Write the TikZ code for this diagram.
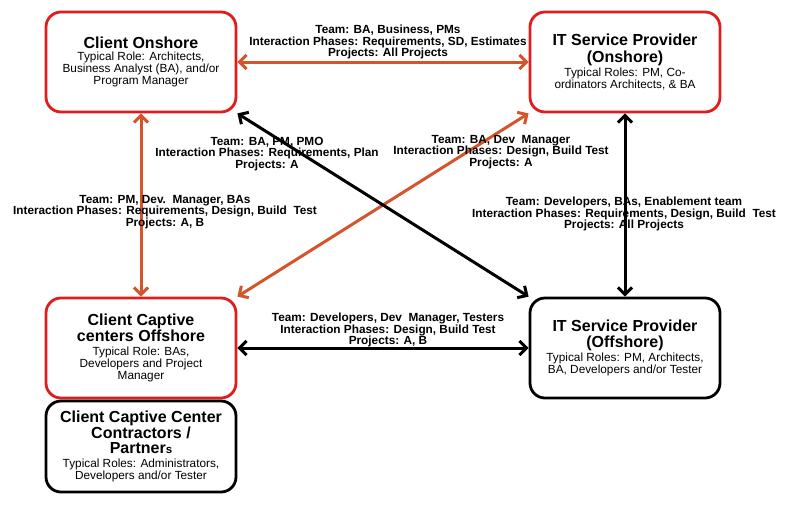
\documentclass[tikz,border=0pt]{standalone}
\usepackage{fontspec}
\setmainfont{Liberation Sans}
\usetikzlibrary{arrows.meta}
\definecolor{boxred}{RGB}{224,28,28}
\definecolor{linkred}{RGB}{212,84,44}
\def\titlefont{\bfseries\fontsize{16}{15}\selectfont}
\def\bodyfont{\mdseries\fontsize{11.8}{12}\selectfont}
\newcommand\boxtitle[1]{{\titlefont\begin{tabular}{@{}c@{}}#1\end{tabular}}}

\begin{document}
\begin{tikzpicture}[x=1pt, y=-1pt,
	box/.style={rounded corners=15pt, line width=2.8pt, fill=white,
		minimum width=190pt, minimum height=100pt, align=center, inner sep=2pt, font=\bodyfont},
	redbox/.style={box, draw=boxred},
	blackbox/.style={box, draw=black},
	lbl/.style={font=\bfseries\fontsize{11.8}{11.2}\selectfont, align=center, inner sep=0pt},
	barb/.style={line width=3pt, {Straight Barb[length=7pt,width=14pt]}-{Straight Barb[length=7pt,width=14pt]}},
	redlink/.style={barb, draw=linkred},
	blacklink/.style={barb, draw=black}]
		%%%%% START %%%%%
		
		\useasboundingbox (0, 0) rectangle (787, 515);
		
		\node[redbox] (cliOn) at (141, 62) {\boxtitle{Client Onshore}\\[-1.5pt]Typical Role: Architects,\\Business Analyst (BA), and/or\\Program Manager};
		\node[redbox] (itOn) at (625, 62) {\boxtitle{IT Service Provider\\(Onshore)}\\Typical Roles: PM, Co-\\ordinators Architects, \& BA};
		\node[redbox] (cliOff) at (141, 348) {\boxtitle{Client Captive\\centers Offshore}\\Typical Role: BAs,\\Developers and Project\\Manager};
		\node[blackbox] (itOff) at (625, 348) {\boxtitle{IT Service Provider\\(Offshore)}\\Typical Roles: PM, Architects,\\BA, Developers and/or Tester};
		\node[blackbox, minimum height=91pt] (partner) at (141, 446.5) {\boxtitle{Client Captive Center\\Contractors /\\Partner{\fontsize{11.5}{11}\selectfont s}}\\Typical Roles: Administrators,\\Developers and/or Tester};
		
		\draw[redlink] (cliOn.east) -- (itOn.west);
		\draw[redlink] (cliOn.south) -- (cliOff.north);
		\draw[redlink] (cliOff.north east) -- (itOn.south west);
		\draw[blacklink] (cliOn.south east) -- (itOff.north west);
		\draw[blacklink] (itOn.south) -- (itOff.north);
		\draw[blacklink] (cliOff.east) -- (itOff.west);
		
		\node[lbl] (lblTop) at (388, 42) {Team: BA, Business, PMs\\Interaction Phases: Requirements, SD, Estimates\\Projects: All Projects};
		\node[lbl] (lblDiagA) at (267, 154) {Team: BA, PM, PMO\\Interaction Phases: Requirements, Plan\\Projects: A};
		\node[lbl] (lblDiagB) at (501, 152) {Team: BA, Dev\ \ Manager\\Interaction Phases: Design, Build Test\\Projects: A};
		\node[lbl] (lblLeft) at (165, 212) {Team: PM, Dev.\ \ Manager, BAs\\Interaction Phases: Requirements, Design, Build\ \ Test\\Projects: A, B};
		\node[lbl] (lblRight) at (624, 214) {Team: Developers, BAs, Enablement team\\Interaction Phases: Requirements, Design, Build\ \ Test\\Projects: All Projects};
		\node[lbl] (lblBottom) at (388, 330) {Team: Developers, Dev\ \ Manager, Testers\\Interaction Phases: Design, Build Test\\Projects: A, B};
		
		%%%%% END %%%%%
\end{tikzpicture}
\end{document}
